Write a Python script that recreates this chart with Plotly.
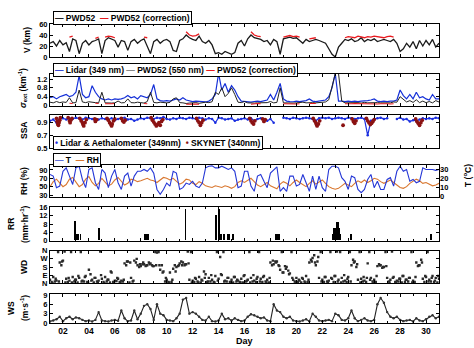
import plotly.graph_objects as go

# ---------------- data (time grid: day 1.0 .. 31.0, every 0.25 day) ----------------
DAY0 = 1.0
STEP = 0.25

V_PWD = [25, 28, 20, 30, 22,
         26, 10, 33, 30,   6, 25, 30, 22,   28, 30, 33, 6,   30, 35, 33, 30,
         18, 30, 28, 12,   28, 32, 25, 30,   33, 20, 6, 28,   32, 25, 30, 32,
         28, 12, 10, 30,   33, 40, 35, 32,   30, 38, 28, 25,  30, 22, 6, 8,
         5, 10, 7, 5,      8, 25, 30, 20,    33, 40, 35, 33,  32, 28, 30, 22,
         32, 28, 5, 33,    35, 36, 34, 35,   30, 25, 32, 28,  30, 32, 30, 28,
         25, 15, 5, 0,     18, 25, 32, 30,   33, 28, 30, 35,  28, 32, 30, 33,
         28, 30, 32, 30,   28, 32, 25, 10,   15, 25, 18, 28,  15, 30, 20, 30,
         22, 32, 18, 25]

# corrected visibility segments: (start day, values every STEP)
V_CORR_SEG = [(2.5, [36, 38]), (4.5, [34, 36]), (5.25, [36, 38, 37, 35]), (8.25, [36, 35]),
              (11.5, [46, 40, 38, 39, 42]), (16.5, [46, 40, 38, 37]),
              (19.0, [36, 38, 39, 37, 38, 36]), (21.0, [33, 34, 35]),
              (23.75, [35, 37, 36, 35, 38, 36, 35, 37, 36, 38, 37, 36, 35, 37, 38, 36])]

EXT_LIDAR = [0.35, 0.4, 0.3, 0.4, 0.45,
             0.5, 0.4, 0.45, 0.6,   1.35, 0.5, 0.35, 0.4,   0.9, 0.6, 0.4, 0.3,
             0.25, 0.3, 0.25, 0.3,  0.28, 0.3, 0.35, 0.45,  0.35, 0.4, 0.3, 0.45,
             0.4, 0.35, 0.5, 0.95,  0.3, 0.22, 0.2, 0.22,   0.2, 0.25, 0.3, 0.25,
             0.35, 0.25, 0.2, 0.18, 0.2, 0.18, 0.15, 0.16,  0.2, 0.3, 0.5, 1.45,
             0.7, 1.0, 0.6, 0.9,    0.7, 0.4, 0.2, 0.18,    0.18, 0.15, 0.18, 0.2,
             0.18, 0.2, 0.25, 0.5,  0.25, 0.6, 1.0, 0.3,    0.2, 0.18, 0.17, 0.2,
             0.18, 0.2, 0.22, 0.3,  0.2, 0.18, 0.2, 0.2,    0.25, 0.4, 0.8, 1.45,
             0.2, 0.2, 0.18, 0.2,   0.18, 0.2, 0.18, 0.2,   0.2, 0.22, 0.25, 0.3,
             0.2, 0.18, 0.2, 0.18,  0.2, 0.2, 0.25, 0.7,    0.45, 0.3, 0.5, 0.3,
             0.6, 0.35, 0.4, 0.3,   0.25, 0.5, 0.3, 0.3]

EXT_PWD = [0.15, 0.12, 0.18, 0.13, 0.16,
           0.14, 0.35, 0.12, 0.13,  0.7, 0.16, 0.13, 0.17,   0.14, 0.13, 0.12, 0.6,
           0.12, 0.1, 0.11, 0.12,   0.2, 0.12, 0.13, 0.3,    0.13, 0.12, 0.15, 0.13,
           0.11, 0.18, 0.6, 0.14,   0.12, 0.15, 0.13, 0.12,  0.14, 0.3, 0.35, 0.13,
           0.12, 0.09, 0.11, 0.12,  0.13, 0.1, 0.14, 0.15,   0.13, 0.17, 0.6, 0.5,
           0.8, 0.4, 0.55, 0.8,     0.5, 0.15, 0.13, 0.18,   0.12, 0.1, 0.11, 0.12,
           0.12, 0.14, 0.13, 0.18,  0.12, 0.14, 0.8, 0.12,   0.11, 0.1, 0.11, 0.12,
           0.13, 0.15, 0.12, 0.14,  0.13, 0.12, 0.13, 0.14,  0.16, 0.26, 0.8, 1.45,
           1.45, 0.2, 0.12, 0.13,   0.12, 0.14, 0.13, 0.11,  0.14, 0.12, 0.13, 0.12,
           0.13, 0.12, 0.12, 0.13,  0.12, 0.16, 0.15, 0.4,   0.26, 0.16, 0.22, 0.14,
           0.26, 0.13, 0.2, 0.13,   0.18, 0.12, 0.22, 0.16]

EXT_CORR_SEG = [(2.5, [0.1, 0.09]), (4.5, [0.1, 0.09]), (5.25, [0.08, 0.07, 0.08, 0.09]),
                (8.25, [0.09, 0.08]), (11.5, [0.06, 0.07, 0.08, 0.07, 0.06]),
                (16.5, [0.06, 0.08, 0.09, 0.08]), (19.0, [0.08, 0.07, 0.07, 0.08, 0.07, 0.08]),
                (21.0, [0.09, 0.08, 0.09]),
                (23.75, [0.08, 0.07, 0.08, 0.09, 0.07, 0.08, 0.08, 0.07, 0.09, 0.08,
                         0.07, 0.08, 0.09, 0.08, 0.07, 0.08])]

SSA_LIDAR = [0.93, 0.95, 0.9, 0.96, 0.97,
             0.95, 0.97, 0.96, 0.98,  0.97, 0.95, 0.98, 0.97,  0.96, 0.93, 0.95, 0.97,
             0.96, 0.95, 0.97, 0.94,  0.96, 0.97, 0.98, 0.95,  0.96, 0.93, 0.95, 0.97,
             0.96, 0.98, 0.97, 0.96,  0.98, 0.97, 0.99, 0.96,  0.95, 0.97, 0.96, 0.98,
             0.97, 0.96, 0.98, 0.97,  0.96, 0.98, 0.97, 0.95,  0.97, 0.96, 0.9, 0.98,
             0.97, 0.95, 0.96, 0.97,  0.93, 0.95, 0.96, 0.97,  0.95, 0.97, 0.93, 0.96,
             0.97, 0.95, 0.93, 0.96,  0.9, None, None, 0.98,   0.97, 0.96, 0.98, 0.97,
             0.96, 0.97, 0.98, 0.97,  0.96, 0.93, 0.97, 0.98,  0.97, 0.98, 0.96, 0.97,
             0.98, 0.97, 0.96, 0.98,  0.97, 0.96, 0.97, 0.98,  0.96, 0.7, 0.93, 0.96,
             0.97, 0.98, 0.96, 0.97,  None, None, 0.96, 0.98,  0.95, 0.96, 0.92, 0.94,
             0.93, 0.95, 0.97, 0.96,  0.97, 0.96, 0.98, 0.97]

SKY_DAY = [1.5, 1.55, 1.6, 1.65, 1.7, 1.75, 1.8,
           2.4, 2.5, 2.55, 2.6, 2.7,
           3.3, 3.4, 3.5, 3.55, 3.6, 3.7, 3.8,
           4.45, 4.5, 4.6,
           5.4, 5.5, 5.6, 5.7, 5.75, 5.8, 5.9, 6.0,
           6.5, 6.6, 6.7, 6.8,
           8.8, 8.9, 9.0, 9.1, 9.2, 9.3, 9.4, 9.5, 9.6, 9.7,
           12.3, 12.4, 12.5, 12.6, 12.7, 12.8,
           16.4, 16.5, 16.6, 16.7, 16.8,
           17.4, 17.5, 17.6,
           21.3, 21.4, 21.5, 21.55, 21.6, 21.7, 21.8,
           23.6,
           24.3, 24.4, 24.5, 24.6,
           25.4, 25.5, 25.6, 25.7, 25.8, 25.9, 26.0,
           29.2, 29.3, 29.4, 29.5, 29.6, 29.7]
SKY_SSA = [0.97, 0.92, 0.88, 0.86, 0.9, 0.94, 0.98,
           0.98, 0.93, 0.9, 0.94, 0.97,
           0.97, 0.93, 0.9, 0.87, 0.85, 0.9, 0.95,
           0.96, 0.92, 0.95,
           0.97, 0.94, 0.9, 0.87, 0.85, 0.88, 0.93, 0.96,
           0.97, 0.93, 0.91, 0.94,
           0.98, 0.94, 0.91, 0.88, 0.85, 0.87, 0.9, 0.86, 0.92, 0.95,
           0.97, 0.93, 0.9, 0.86, 0.9, 0.94,
           0.97, 0.93, 0.9, 0.88, 0.93,
           0.96, 0.92, 0.95,
           0.97, 0.93, 0.9, 0.87, 0.85, 0.88, 0.93,
           0.86,
           0.96, 0.92, 0.89, 0.93,
           0.97, 0.93, 0.9, 0.87, 0.89, 0.92, 0.95,
           0.96, 0.92, 0.89, 0.86, 0.9, 0.94]

RH = [50, 62, 68, 60, 50,
      55, 68, 72, 62,  50, 55, 68, 74,  60, 52, 58, 70,  62, 52, 56, 66,
      72, 64, 54, 58,  68, 66, 62, 64,  68, 70, 66, 64,  60, 65, 72, 70,
      66, 70, 62, 56,  60, 68, 66, 58,  55, 62, 58, 52,  50, 48, 52, 50,
      48, 52, 50, 46,  50, 60, 64, 60,  66, 70, 62, 54,  50, 56, 60, 52,
      48, 45, 56, 62,  58, 52, 60, 66,  60, 54, 50, 58,  64, 56, 60, 66,
      58, 50, 46, 44,  46, 52, 58, 54,  50, 58, 64, 60,  66, 60, 64, 70,
      68, 62, 58, 62,  66, 60, 54, 48,  46, 50, 58, 62,  68, 64, 58, 60,
      56, 52, 54, 58]

T = [24.5, 22.7, 10, 11.7, 28,
     31.8, 22.7, 13.5, 31.8,  33.6, 19, 10, 30,  31.8, 15.4, 8, 30,  26, 10, 22.7, 30,
     15.4, 8, 22.7, 26,  11.7, 22.7, 28, 28,  30, 28, 31.8, 26,  8, 2.6, 8, 15,
     11.7, 28, 26, 8,  10, 15, 13.5, 17,  11.7, 10, 15, 31.8,  33.6, 34, 31.8, 31.8,
     33.6, 31.8, 30, 31.8,  28, 10, 11.7, 28,  28, 11.7, 6, 22.7,  24.5, 17, 10, 26,
     30, 33, 6, 10,  6, 22.7, 22.7, 11.7,  13.5, 24.5, 15.4, 6,  22.7, 8, 22.7, 10,
     6, 30, 33.6, 33.6,  31.8, 21, 17, 8,  22.7, 21, 8, 4.4,  8, 19, 24.5, 10,
     17, 8, 8, 19,  21, 11.7, 28, 33.6,  28, 30, 17, 19,  15.4, 17, 31.8, 30,
     30, 30, 29, 30]

RR_DAY = [2.95, 3.05, 3.15, 3.35, 4.75, 4.82, 8.3, 8.38, 8.46, 8.54, 11.45,
          13.8, 14.0, 14.06, 14.12, 14.2, 14.45, 14.7, 14.8, 15.1,
          18.45, 18.55, 18.65, 22.8, 22.9, 23.0, 23.1, 23.2, 23.3, 23.4, 24.2, 30.4]
RR_VAL = [9.5, 3, 3, 3, 6, 3, 3, 3, 3, 3, 15,
          12, 15, 6, 3, 3, 3, 3, 3, 3,
          3, 3, 3, 3, 6, 6, 9, 9, 6, 3, 3, 3]

WD_A = [40, 70, 30, 230, 250,
        50, 30, 70, 40,  60, 30, 80, 150,  40, 60, 30, 50,  70, 40, 120, 30,
        50, 30, 220, 240,  60, 250, 200, 190,  210, 200, 220, 190,  340, 150, 130, 40,
        120, 160, 180, 220,  230, 210, 40, 30,  50, 70, 30, 100,  60, 40, 80, 50,
        90, 30, 60, 40,  70, 30, 50, 90,  40, 60, 30, 70,  50, 80, 40, 230,
        210, 240, 150, 120,  180, 110, 40, 60,  30, 50, 80, 230,  280, 200, 60, 40,
        70, 30, 50, 80,  40, 60, 30, 70,  200, 240, 40, 50,  30, 220, 60, 40,
        190, 200, 180, 60,  40, 70, 30, 50,  80, 40, 60, 30,  230, 200, 50, 70,
        40, 80, 60, 50]
WD_B = [15, 20, 345, 200, 350,
        15, 345, 20, 10,  345, 20, 15, 100,  10, 20, 350, 15,  20, 10, 15, 25,
        15, 20, 200, 10,  20, 230, 180, 210,  190, 230, 200, 345,  345, 200, 20, 15,
        15, 200, 190, 240,  200, 350, 345, 15,  20, 10, 130, 15,  20, 15, 345, 290,
        345, 20, 15, 10,  20, 15, 10, 20,  345, 20, 15, 345,  15, 20, 10, 200,
        240, 200, 345, 190,  140, 345, 20, 15,  10, 20, 15, 260,  310, 240, 345, 15,
        20, 345, 15, 350,  345, 20, 15, 345,  260, 180, 345, 20,  15, 345, 20, 15,
        210, 170, 345, 20,  350, 15, 20, 10,  15, 20, 345, 15,  190, 260, 15, 345,
        20, 15, 10, 20]
WD_C = [5, 50, 20, 240, 10,
        60, 10, 40, 80,  20, 70, 10, 30,  60, 10, 90, 5,  40, 130, 10, 60,
        10, 40, 240, 230,  30, 270, 210, 230,  200, 210, 190, 200,  200, 120, 60, 10,
        40, 130, 200, 200,  210, 220, 10, 60,  10, 40, 60, 20,  90, 10, 30, 100,
        20, 60, 10, 70,  40, 10, 80, 30,  10, 90, 50, 20,  70, 10, 60, 250,
        230, 190, 120, 160,  100, 60, 10, 40,  60, 10, 40, 240,  230, 290, 20, 70,
        10, 60, 80, 20,  10, 90, 50, 20,  230, 210, 10, 70,  60, 40, 10, 80,
        200, 180, 190, 10,  60, 10, 50, 80,  40, 60, 10, 70,  200, 230, 80, 20,
        60, 30, 80, 10]

WS = [0.5, 0.8, 1.2, 2.0, 0.6,
      1.5, 2.0, 1.2, 1.8,  1.5, 1.0, 0.6, 0.8,  0.5, 1.0, 3.5, 0.8,  0.6, 0.5, 0.8, 1.0,
      0.7, 4.0, 1.5, 0.6,  0.8, 4.0, 1.2, 3.0,  5.5, 6.0, 4.5, 1.0,  6.0, 3.0, 2.5, 1.0,
      0.8, 0.6, 1.5, 3.0,  7.5, 8.0, 3.0, 3.5,  3.0, 2.0, 1.0, 0.8,  2.0, 0.6, 0.5, 0.8,
      3.0, 1.2, 1.5, 0.8,  1.5, 1.0, 0.6, 0.8,  2.0, 2.8, 2.5, 2.0,  1.5, 1.8, 0.8, 0.6,
      6.0, 4.0, 3.5, 2.0,  1.5, 2.0, 0.8, 0.6,  0.5, 0.8, 1.2, 0.6,  3.0, 2.0, 0.8, 0.6,
      0.8, 1.0, 0.6, 3.0,  2.5, 1.0, 0.8, 1.5,  4.0, 1.5, 0.6, 1.0,  1.5, 0.8, 0.6, 1.0,
      6.0, 8.0, 6.5, 3.5,  2.0, 1.5, 2.0, 1.0,  0.6, 0.8, 1.0, 0.5,  1.5, 0.8, 0.6, 1.2,
      2.0, 2.5, 1.5, 2.0]

X_TICKS = list(range(2, 31, 2))
X_TICKTEXT = [f"{d:02d}" for d in X_TICKS]

# ---------------- helpers ----------------
def grid(vals, offset=0.0):
    return [DAY0 + offset + STEP * i for i in range(len(vals))]

def seg_xy(segs):
    xs, ys = [], []
    for start, vals in segs:
        for i, v in enumerate(vals):
            xs.append(start + STEP * i)
            ys.append(v)
        xs.append(None)
        ys.append(None)
    return xs, ys

# ---------------- layout geometry (pixels) ----------------
W, H = 474, 348
L, R, TOP, BOT = 50, 439, 24, 323
PH = BOT - TOP
PANELS = [(24, 57), (73.5, 105.5), (114.5, 148), (164.5, 196.7),
          (207.3, 240.7), (250.7, 283.3), (294, 323)]

def dom(p):
    t, b = p
    return [max(0, (BOT - b) / PH), min(1, (BOT - t) / PH)]

def px(x):
    return (x - L) / (R - L)

def py(y):
    return (BOT - y) / PH

FONT = "Liberation Sans, Arial, sans-serif"

fig = go.Figure()

# Panel 1: visibility
fig.add_trace(go.Scatter(x=grid(V_PWD), y=V_PWD, mode="lines",
                         line=dict(color="#1a1a1a", width=1.3), xaxis="x", yaxis="y"))
vx, vy = seg_xy(V_CORR_SEG)
fig.add_trace(go.Scatter(x=vx, y=vy, mode="lines",
                         line=dict(color="#e8191e", width=1.3), xaxis="x", yaxis="y"))

# Panel 2: extinction
fig.add_trace(go.Scatter(x=grid(EXT_LIDAR), y=EXT_LIDAR, mode="lines",
                         line=dict(color="#1530d8", width=1.2), xaxis="x2", yaxis="y2"))
fig.add_trace(go.Scatter(x=grid(EXT_PWD), y=EXT_PWD, mode="lines",
                         line=dict(color="#222222", width=1), xaxis="x2", yaxis="y2"))
ex, ey = seg_xy(EXT_CORR_SEG)
fig.add_trace(go.Scatter(x=ex, y=ey, mode="lines",
                         line=dict(color="#e8191e", width=1.1), xaxis="x2", yaxis="y2"))

# Panel 3: SSA
fig.add_trace(go.Scatter(x=grid(SSA_LIDAR), y=SSA_LIDAR, mode="lines+markers",
                         line=dict(color="#1a2ee0", width=1.2),
                         marker=dict(color="#1a2ee0", size=2.5), xaxis="x3", yaxis="y3"))
fig.add_trace(go.Scatter(x=SKY_DAY, y=SKY_SSA, mode="markers",
                         marker=dict(color="#8b1212", size=3.8), xaxis="x3", yaxis="y3"))

# Panel 4: RH and T
fig.add_trace(go.Scatter(x=grid(RH), y=RH, mode="lines",
                         line=dict(color="#d9772f", width=1.1), xaxis="x4", yaxis="y4"))
fig.add_trace(go.Scatter(x=grid(T), y=T, mode="lines",
                         line=dict(color="#2436d6", width=1.1), xaxis="x4", yaxis="y8"))

# Panel 5: rain rate
fig.add_trace(go.Bar(x=RR_DAY, y=RR_VAL, width=0.07,
                     marker=dict(color="black", line=dict(width=0)), xaxis="x5", yaxis="y5"))

# Panel 6: wind direction
for vals, off in ((WD_A, 0.0), (WD_B, STEP / 2), (WD_C, STEP * 0.75)):
    fig.add_trace(go.Scatter(x=grid(vals, off), y=vals, mode="markers",
                             marker=dict(color="#2a2a2a", size=2.4, symbol="square"),
                             xaxis="x6", yaxis="y6"))

# Panel 7: wind speed
fig.add_trace(go.Scatter(x=grid(WS), y=WS, mode="lines+markers",
                         line=dict(color="#222222", width=1.1),
                         marker=dict(color="#333333", size=2.4), xaxis="x7", yaxis="y7"))

fig.update_traces(showlegend=False)

# ---------------- axes ----------------
lay = {}
for i in range(1, 8):
    key = "xaxis" if i == 1 else f"xaxis{i}"
    ax = dict(domain=[0, 1], range=[1, 31], anchor="y" if i == 1 else f"y{i}",
              showline=True, linecolor="black", linewidth=1, mirror="allticks",
              ticks="inside", ticklen=3, tickcolor="black",
              tickvals=X_TICKS, showticklabels=(i == 7),
              minor=dict(tickvals=list(range(1, 32)), ticks="inside", ticklen=2,
                         tickcolor="black"),
              showgrid=False, zeroline=False,
              tickfont=dict(size=8.5, family=FONT, color="black", weight="bold"))
    if i == 7:
        ax["ticktext"] = X_TICKTEXT
    lay[key] = ax

def yax(i, rng, tickvals, ticktext=None, mirror="ticks"):
    d = dict(domain=dom(PANELS[i - 1]), range=rng, anchor="x" if i == 1 else f"x{i}",
             showline=True, linecolor="black", linewidth=1, mirror=mirror,
             ticks="inside", ticklen=3, tickcolor="black", tickvals=tickvals,
             showgrid=False, zeroline=False,
             tickfont=dict(size=7.5, family=FONT, color="black", weight="bold"))
    if ticktext is not None:
        d["ticktext"] = ticktext
    return d

lay["yaxis"] = yax(1, [0, 60], [0, 20, 40, 60])
lay["yaxis2"] = yax(2, [0, 1.45], [0, 0.4, 0.8, 1.2], ["0", "0.4", "0.8", "1.2"])
lay["yaxis3"] = yax(3, [0.5, 1.03], [0.5, 0.7, 0.9], ["0.5", "0.7", "0.9"])
lay["yaxis4"] = yax(4, [26, 103], [30, 50, 70, 90], mirror=True)
lay["yaxis5"] = yax(5, [0, 16], [0, 4, 8, 12, 16])
lay["yaxis6"] = yax(6, [0, 360], [0, 90, 180, 270, 360], ["N", "E", "S", "W", "N"])
lay["yaxis7"] = yax(7, [0, 9.3], [0, 3, 6, 9])
lay["yaxis8"] = dict(domain=dom(PANELS[3]), range=[0, 35.5], overlaying="y4", side="right",
                     anchor="x4", ticks="inside", ticklen=3, tickcolor="black",
                     tickvals=[0, 10, 20, 30], showgrid=False, zeroline=False, showline=False,
                     tickfont=dict(size=7.5, family=FONT, color="black", weight="bold"))

# ---------------- text: axis titles & legends ----------------
ann = []
def title(text, x, y, size=8.5, angle=-90):
    ann.append(dict(text=text, x=px(x), y=py(y), xref="paper", yref="paper",
                    showarrow=False, textangle=angle, xanchor="center", yanchor="middle",
                    font=dict(size=size, family=FONT, color="black", weight="bold")))

title("V (km)", 27, 40)
title("<i>σ</i><sub>ext</sub> (km<sup>-1</sup>)", 22, 88)
title("SSA", 24, 131)
title("RH (%)", 24, 181)
title("RR", 11, 224)
title("(mm·hr<sup>-1</sup>)", 24, 224)
title("WD", 24, 267)
title("WS", 11, 308)
title("(m·s<sup>-1</sup>)", 24, 308)
title("T (<sup>o</sup>C)", 467, 176)
title("Day", 245, 341, size=9, angle=0)

def legend_box(text, x, y):
    ann.append(dict(text=text, x=px(x), y=py(y), xref="paper", yref="paper",
                    showarrow=False, xanchor="left", yanchor="top", align="left",
                    bgcolor="white", bordercolor="black", borderwidth=1, borderpad=1,
                    font=dict(size=8.5, family=FONT, color="black", weight="bold")))

legend_box("<span style='color:#222'>—</span> PWD52  "
           "<span style='color:#e8191e'>—</span> PWD52 (correction)", 53, 11)
legend_box("<span style='color:#3848d0'>—</span> Lidar (349 nm) "
           "<span style='color:#888'>—</span> PWD52 (550 nm) "
           "<span style='color:#e8191e'>—</span> PWD52 (correction)", 53, 62.5)
legend_box("<span style='color:#1a2ee0'>•</span> Lidar &amp; Aethalometer (349nm)  "
           "<span style='color:#8b1212'>•</span> SKYNET (340nm)", 53, 136)
legend_box("<span style='color:#6070d8'>—</span> T  "
           "<span style='color:#d9772f'>—</span> RH", 53, 153)

fig.update_layout(width=W, height=H, margin=dict(l=L, r=W - R, t=TOP, b=H - BOT),
                  paper_bgcolor="white", plot_bgcolor="white", annotations=ann,
                  font=dict(family=FONT, color="black", weight="bold"),
                  bargap=0, **lay)

fig.write_html("out.html")
